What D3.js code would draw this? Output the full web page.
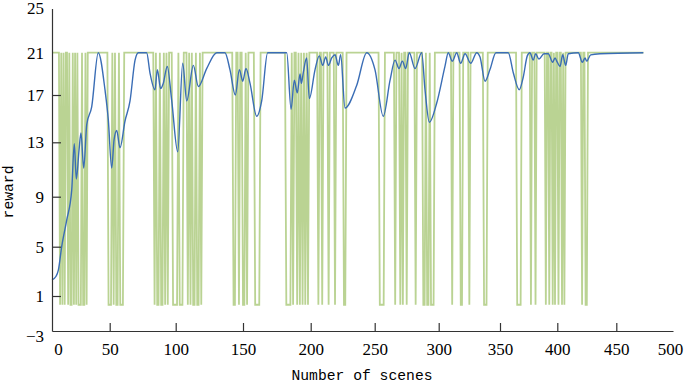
<!DOCTYPE html>
<html>
<head>
<meta charset="UTF-8">
<title></title>
<style>
  body { margin: 0; background: #fff; }
</style>
</head>
<body>
<script src="https://d3js.org/d3.v7.min.js"></script>
<script>
// tick labels
var xTicks = [0, 50, 100, 150, 200, 250, 300, 350, 400, 450, 500];
var yTicks = [-3, 1, 5, 9, 13, 17, 21, 25];

// raw reward: 21 on every scene, 0 on the failed ones
var sceneCount = 475;
var topReward = 21;
var lowReward = 0;
var failScenes = [7, 9, 11, 14, 16, 17, 19, 21, 23, 24, 25, 27, 28, 30,
  49, 50, 51, 53, 55, 56, 58, 59, 60,
  84, 86, 87, 89, 90, 92, 94,
  98, 99, 100, 101, 103, 104, 105, 109, 111, 113, 114, 116, 117, 119,
  143, 144, 147, 150, 151, 153, 159, 160, 161, 162,
  182, 183, 184, 185, 187, 190, 192, 194, 196, 198,
  206, 209, 214, 219, 226, 227,
  254, 255, 256, 257, 266, 270, 272, 275, 282,
  288, 289, 291, 292, 294, 295, 296,
  311, 318, 319, 325, 337, 338, 339,
  365, 366, 367, 368, 377, 381, 390, 393, 396, 398, 401, 404, 406,
  421, 424, 425];

// smoothed reward
var smoothScenes = [0, 3.5, 5.5, 8.4, 12.7, 17.1, 19.3, 21.1, 23.4, 25.1, 27.5, 30.1, 34.4, 40.1,
  45.9, 48.8, 51.5, 53.3, 55.3, 57.8, 61.6, 65.4, 69.2, 71.7, 78, 80.5, 84.3, 86.1, 88.6,
  90.6, 93.6, 97, 101.5, 105.2, 108.2, 113.1, 116.8, 123, 130.5, 136.6, 140.3, 144.3,
  147.3, 149.8, 152.2, 155.2, 160.1, 163.8, 168.2, 182.3, 185.5, 187.9, 190.1, 192.1,
  193.1, 194.5, 197, 199, 203.4, 206.7, 209.4, 211.7, 213.8, 216.4, 219, 221.6, 223.4,
  226.8, 235.9, 243.8, 250.2, 256.7, 262, 265.9, 269, 271.6, 274.2, 277, 281.5, 286.7,
  289.3, 292.7, 298.4, 305.1, 307.8, 311.1, 314.7, 317.9, 321.5, 326.1, 331, 333.7,
  337.8, 341.8, 346.7, 357.2, 361.6, 366.8, 370.3, 373.8, 376.1, 379, 381.1, 384,
  388.4, 392.1, 396, 398, 400, 402.3, 404.6, 407.1, 409.3, 417.8, 421.2, 423.5, 424.9,
  428.3, 436.2, 473.8];
var smoothValues = [2.3, 2.6, 3.1, 5, 7.1, 9.5, 12.9, 10.3, 12.4, 13.8, 11.1, 14.5, 16, 21,
  17.5, 14.9, 11.1, 13.2, 14, 12.6, 14.8, 16.5, 20.3, 21, 21, 19.1, 17.5, 19.4, 17.6,
  18.1, 19.7, 16.5, 12.3, 20, 16.5, 19.8, 17.8, 19.5, 21, 21, 19.4, 17,
  19.4, 18.3, 19.5, 18.1, 15.2, 16.5, 21, 21, 15.8, 18.4, 17.2, 19,
  18.1, 19.1, 20.5, 16.7, 19.4, 20.7, 19.8, 20.6, 19.8, 20.5, 20.8, 19.8, 20.8,
  15.9, 17.9, 21, 19.4, 15.2, 18.4, 20.3, 19.5, 20.2, 19.5, 21, 19.5, 21,
  17.5, 14.7, 16.3, 19.7, 21, 20.2, 21, 20, 20.9, 20, 21, 20.6,
  18.3, 19.4, 21, 21, 19.1, 17.5, 18.7, 20.7, 21, 20.3, 20.9, 20.4,
  20.9, 20.9, 20.1, 20.5, 20.1, 19.7, 20.8, 19.8, 20.9, 21, 20.1, 20.5, 20.2,
  20.8, 20.9, 21];

var width = 685;
var height = 386;
var serif = "'Liberation Serif', 'Times New Roman', serif";
var mono = "'Liberation Mono', monospace";

var svg = d3.select("body")
  .append("svg")
  .attr("width", width)
  .attr("height", height);

// the picture's axes are not evenly spaced, so each tick gets its own stop
var xStops = [52, 109.7, 175.7, 243, 310.7, 374.7, 438.7, 500, 557.3, 616.3, 673];
var yStops = [331, 296, 246.7, 196.7, 142.3, 95, 52.7, 8.5];

var x = d3.scaleLinear().domain(xTicks).range(xStops);
var y = d3.scaleLinear().domain(yTicks).range(yStops);

var left = x(0), right = x(500), top = y(25), bottom = y(-3);

// frame
svg.append("rect")
  .attr("x", left)
  .attr("y", top)
  .attr("width", right - left)
  .attr("height", bottom - top)
  .attr("fill", "none")
  .attr("stroke", "#333")
  .attr("stroke-width", 1.2);

// raw reward line
var rawData = d3.range(sceneCount).map(function(i) {
  return { scene: i, reward: failScenes.indexOf(i) >= 0 ? lowReward : topReward };
});

var line = d3.line()
  .x(function(d) { return x(d.scene); })
  .y(function(d) { return y(d.reward); });

svg.append("path")
  .datum(rawData)
  .attr("fill", "none")
  .attr("stroke", "#bad393")
  .attr("stroke-width", 1.8)
  .attr("d", line);

// smoothed reward line
var smoothData = smoothScenes.map(function(s, i) {
  return { scene: s, reward: smoothValues[i] };
});

svg.append("path")
  .datum(smoothData)
  .attr("fill", "none")
  .attr("stroke", "#3a6db5")
  .attr("stroke-width", 1.4)
  .attr("d", line.curve(d3.curveMonotoneX));

// x axis, ticks pointing inward
var xAxis = d3.axisBottom(x)
  .tickValues(xTicks)
  .tickFormat(d3.format("d"))
  .tickSizeInner(-8)
  .tickSizeOuter(0)
  .tickPadding(12);

var gx = svg.append("g")
  .attr("transform", "translate(0," + bottom + ")")
  .call(xAxis);
gx.select(".domain").attr("stroke", "#333").attr("stroke-width", 1.2);
gx.selectAll(".tick line").attr("stroke", "#333").attr("stroke-width", 1.2)
  .filter(function(d) { return d === 0 || d === 500; }).remove();
gx.selectAll(".tick text")
  .style("font-family", serif)
  .style("font-size", "17px")
  .attr("fill", "#000");
gx.selectAll(".tick text").filter(function(d) { return d === 0; }).attr("dx", 6);
gx.selectAll(".tick text").filter(function(d) { return d === 500; }).attr("dx", -3);

// y axis
var yAxis = d3.axisLeft(y)
  .tickValues(yTicks)
  .tickFormat(function(d) { return d < 0 ? "\u2212" + Math.abs(d) : d; })
  .tickSizeInner(-9)
  .tickSizeOuter(0)
  .tickPadding(8);

var gy = svg.append("g")
  .attr("transform", "translate(" + left + ",0)")
  .call(yAxis);
gy.select(".domain").attr("stroke", "#333").attr("stroke-width", 1.2);
gy.selectAll(".tick line").attr("stroke", "#333").attr("stroke-width", 1.2)
  .filter(function(d) { return d === -3 || d === 25 || d === 21; }).remove();
gy.selectAll(".tick text")
  .style("font-family", serif)
  .style("font-size", "17px")
  .attr("fill", "#000");
gy.selectAll(".tick text").filter(function(d) { return d === -3; }).attr("dy", "0.6em");

// titles
svg.append("text")
  .attr("x", 362)
  .attr("y", 380)
  .attr("text-anchor", "middle")
  .style("font-family", mono)
  .style("font-size", "14.7px")
  .text("Number of scenes");

svg.append("text")
  .attr("transform", "translate(13,192) rotate(-90)")
  .attr("text-anchor", "middle")
  .style("font-family", mono)
  .style("font-size", "14.7px")
  .text("reward");
</script>
</body>
</html>
